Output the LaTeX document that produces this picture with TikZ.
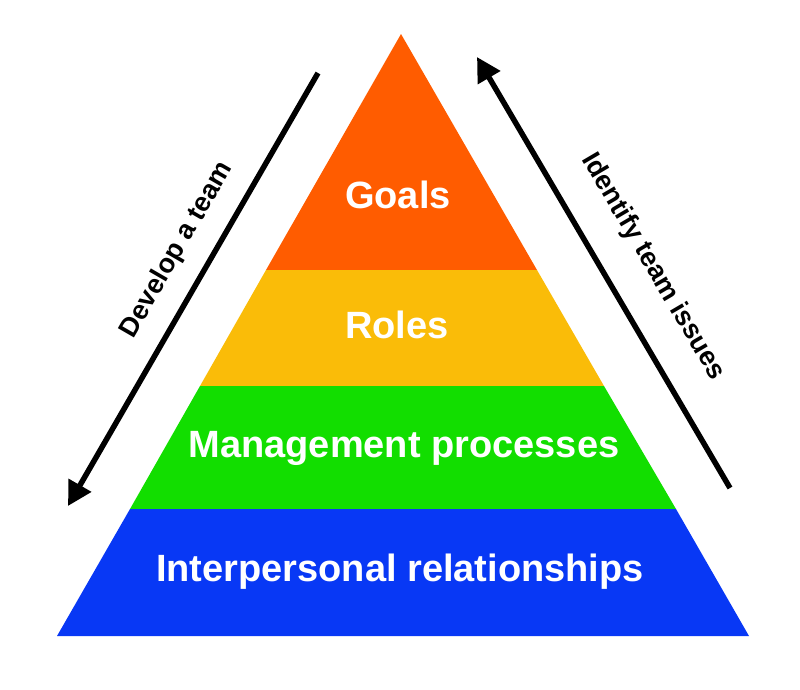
\documentclass[tikz,border=0pt]{standalone}
\usepackage{fontspec}
\setmainfont{Liberation Sans}
\usetikzlibrary{arrows.meta}
\usetikzlibrary{positioning}

\begin{document}
\begin{tikzpicture}[x=1pt, y=-1pt,
    stufe/.style={font=\fontsize{38}{40}\selectfont\bfseries, text=white, anchor=base},
    seite/.style={font=\fontsize{27}{30}\selectfont\bfseries, text=black, anchor=center},
    pfeil/.style={line width=5.5pt, -{Triangle[length=24pt, width=25pt]}}]

    % Farben der Stufen
    \definecolor{goalcolor}{RGB}{255, 92, 0}
    \definecolor{rolecolor}{RGB}{250, 188, 8}
    \definecolor{processcolor}{RGB}{18, 222, 0}
    \definecolor{relationcolor}{RGB}{8, 56, 245}

    \useasboundingbox (0,0) rectangle (800,689);

    % Eckpunkte der Pyramide
    \coordinate (S) at (401, 34); % Spitze
    \coordinate (L1) at (266, 270);
    \coordinate (R1) at (537, 270);
    \coordinate (L2) at (200, 386);
    \coordinate (R2) at (604, 386);
    \coordinate (L3) at (130, 509);
    \coordinate (R3) at (676, 509);
    \coordinate (L4) at (57, 636); % Basis links
    \coordinate (R4) at (749, 636); % Basis rechts

    % Stufen
    \fill[goalcolor] (S) -- (R1) -- (L1) -- cycle;
    \fill[rolecolor] (L1) -- (R1) -- (R2) -- (L2) -- cycle;
    \fill[processcolor] (L2) -- (R2) -- (R3) -- (L3) -- cycle;
    \fill[relationcolor] (L3) -- (R3) -- (R4) -- (L4) -- cycle;

    % Beschriftung der Stufen
    \node[stufe] (goals) at (398, 208) {Goals};
    \node[stufe] (roles) at (397, 338) {Roles};
    \node[stufe] (processes) at (404, 457) {Management processes};
    \node[stufe] (relations) at (400, 581) {Interpersonal relationships};

    % Pfeile
    \coordinate (lo) at (318, 73);
    \coordinate (lu) at (68, 506);
    \coordinate (ru) at (730, 488);
    \coordinate (ro) at (477, 57);
    \draw[pfeil] (lo) -- (lu);
    \draw[pfeil] (ru) -- (ro);

    % Beschriftung der Pfeile
    \node[seite, rotate=60] (develop) at (177, 250) {Develop a team};
    \node[seite, rotate=-59.6] (identify) at (653, 267) {Identify team issues};

\end{tikzpicture}
\end{document}
